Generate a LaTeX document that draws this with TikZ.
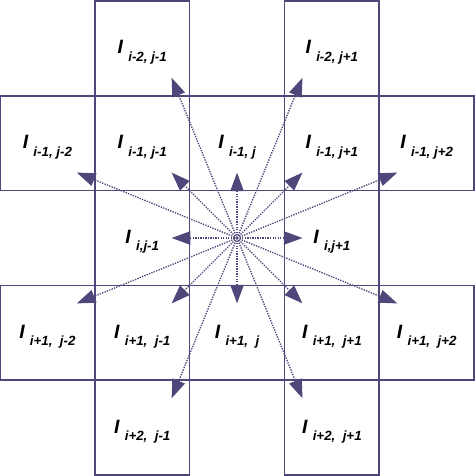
\documentclass[tikz,border=0pt]{standalone}
\usepackage{fontspec}
\setmainfont{Liberation Sans}
\usetikzlibrary{arrows.meta,calc,positioning}

\definecolor{gridcol}{RGB}{78,72,122}
\newcommand{\pixlabel}[1]{\rule{0pt}{16pt}{\fontsize{14.5}{16}\selectfont I}\kern4pt\raisebox{-5.5pt}{\fontsize{10}{12}\selectfont #1}}

\begin{document}
\begin{tikzpicture}[x=2.5cm,y=2.5cm,
  cell/.style={draw=gridcol,line width=1.2pt,minimum size=2.5cm,inner sep=0pt,
    font=\bfseries\itshape},
  ray/.style={gridcol,line width=1pt,dash pattern=on 1pt off 0.9pt,
    -{Triangle[length=14pt,width=10pt]}}]
  \useasboundingbox (-2.5,-2.51) rectangle (2.5,2.51);
  % the cells
  \node[cell] (im2jm1) at (-1,2) {\pixlabel{i-2, j-1}};
  \node[cell] (im2jp1) at (1,2) {\pixlabel{i-2, j+1}};
  \node[cell] (im1jm2) at (-2,1) {\pixlabel{i-1, j-2}};
  \node[cell] (im1jm1) at (-1,1) {\pixlabel{i-1, j-1}};
  \node[cell] (im1j) at (0,1) {\pixlabel{i-1, j}};
  \node[cell] (im1jp1) at (1,1) {\pixlabel{i-1, j+1}};
  \node[cell] (im1jp2) at (2,1) {\pixlabel{i-1, j+2}};
  \node[cell] (ijm1) at (-1,0) {\pixlabel{i,j-1}};
  \node[cell] (ij) at (0,0) {};
  \node[cell] (ijp1) at (1,0) {\pixlabel{i,j+1}};
  \node[cell] (ip1jm2) at (-2,-1) {\pixlabel{i+1,~ j-2}};
  \node[cell] (ip1jm1) at (-1,-1) {\pixlabel{i+1,~ j-1}};
  \node[cell] (ip1j) at (0,-1) {\pixlabel{i+1,~ j}};
  \node[cell] (ip1jp1) at (1,-1) {\pixlabel{i+1,~ j+1}};
  \node[cell] (ip1jp2) at (2,-1) {\pixlabel{i+1,~ j+2}};
  \node[cell] (ip2jm1) at (-1,-2) {\pixlabel{i+2,~ j-1}};
  \node[cell] (ip2jp1) at (1,-2) {\pixlabel{i+2,~ j+1}};
  % rays from the centre pixel
  \coordinate (O) at (ij.center);
  \foreach \c/\r in {-1/2,1/2,-2/1,-1/1,0/1,1/1,2/1,-1/0,1/0,
                     -2/-1,-1/-1,0/-1,1/-1,2/-1,-1/-2,1/-2} {
    \coordinate (tip) at ({\c-0.31*sign(\c)},{\r-0.31*sign(\r)});
    \draw[ray] (O) -- (tip);
  }
\end{tikzpicture}
\end{document}
